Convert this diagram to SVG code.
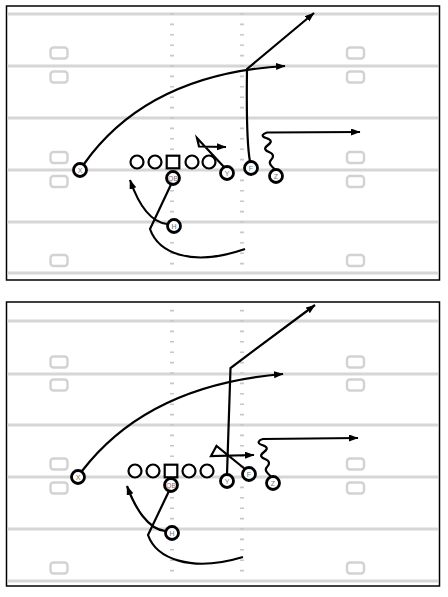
<svg xmlns="http://www.w3.org/2000/svg" width="448" height="597" viewBox="0 0 448 597">
<defs>
<style>
.frame{fill:#fff;stroke:#000;stroke-width:1.5}
.yard{stroke:#d6d6d6;stroke-width:3}
.hash{stroke:#c8c8c8;stroke-width:4;stroke-dasharray:1.6 8.8}
.num{fill:#fff;stroke:#d2d2d2;stroke-width:2.4}
.pl{fill:#fff;stroke:#000;stroke-width:2.8}
.ol{fill:#fff;stroke:#000;stroke-width:2.2}
.lbl{font-family:"Liberation Sans",Arial,sans-serif;font-size:7px;fill:#777;text-anchor:middle}
.rt{fill:none;stroke:#000;stroke-width:2.2;stroke-linejoin:miter}
.ar{marker-end:url(#arrow)}
</style>
<marker id="arrow" markerUnits="userSpaceOnUse" markerWidth="10" markerHeight="8" refX="9" refY="3.5" orient="auto">
<path d="M0,0 L9.5,3.5 L0,7 z" fill="#000"/>
</marker>
</defs>
<rect width="448" height="597" fill="#fff"/>

<!-- Panel 1 field -->
<g id="field1">
<rect class="frame" x="6.5" y="6" width="433" height="274"/>
<g class="yard">
<line x1="7.5" y1="14" x2="438" y2="14"/>
<line x1="7.5" y1="66" x2="438" y2="66"/>
<line x1="7.5" y1="118" x2="438" y2="118"/>
<line x1="7.5" y1="170" x2="438" y2="170"/>
<line x1="7.5" y1="222" x2="438" y2="222"/>
<line x1="7.5" y1="273" x2="438" y2="273"/>
</g>
<line class="hash" x1="172" y1="13.2" x2="172" y2="272"/>
<line class="hash" x1="242" y1="13.2" x2="242" y2="272"/>
<g class="num">
<rect x="50.5" y="47.5" width="17" height="11" rx="3"/>
<rect x="347" y="47.5" width="17" height="11" rx="3"/>
<rect x="50.5" y="71.5" width="17" height="11" rx="3"/>
<rect x="347" y="71.5" width="17" height="11" rx="3"/>
<rect x="50.5" y="152" width="17" height="11" rx="3"/>
<rect x="347" y="152" width="17" height="11" rx="3"/>
<rect x="50.5" y="176" width="17" height="11" rx="3"/>
<rect x="347" y="176" width="17" height="11" rx="3"/>
<rect x="50.5" y="255" width="17" height="11" rx="3"/>
<rect x="347" y="255" width="17" height="11" rx="3"/>
</g>
</g>

<!-- Panel 2 field -->
<g id="field2">
<rect class="frame" x="6.5" y="302" width="433" height="284"/>
<g class="yard">
<line x1="7.5" y1="321" x2="438" y2="321"/>
<line x1="7.5" y1="374" x2="438" y2="374"/>
<line x1="7.5" y1="425" x2="438" y2="425"/>
<line x1="7.5" y1="477" x2="438" y2="477"/>
<line x1="7.5" y1="529" x2="438" y2="529"/>
<line x1="7.5" y1="581" x2="438" y2="581"/>
</g>
<line class="hash" x1="172" y1="309.8" x2="172" y2="580"/>
<line class="hash" x1="242" y1="309.8" x2="242" y2="580"/>
<g class="num">
<rect x="50.5" y="356.5" width="17" height="11" rx="3"/>
<rect x="347" y="356.5" width="17" height="11" rx="3"/>
<rect x="50.5" y="379.5" width="17" height="11" rx="3"/>
<rect x="347" y="379.5" width="17" height="11" rx="3"/>
<rect x="50.5" y="458.5" width="17" height="11" rx="3"/>
<rect x="347" y="458.5" width="17" height="11" rx="3"/>
<rect x="50.5" y="482.5" width="17" height="11" rx="3"/>
<rect x="347" y="482.5" width="17" height="11" rx="3"/>
<rect x="50.5" y="562.5" width="17" height="11" rx="3"/>
<rect x="347" y="562.5" width="17" height="11" rx="3"/>
</g>
</g>

<!-- Connectors -->
<g id="routes">
<!-- panel 1 -->
<path class="rt ar" d="M84,164 Q148,74 285,66"/>
<path class="rt ar" d="M250,161.5 Q246,140 247,69 L314,13"/>
<path class="rt ar" d="M275,169.5 C271,166 268,163 271,160 S274,154 269,152 S264,148 268,145 S272,140 266,138 S263,134 267,132.5 L360,132"/>
<path class="rt ar" d="M224,167 L197,138 L199,146.5 L226,147"/>
<path class="rt" d="M171,184.5 L150,229 C158,252 190,268 245,249"/>
<path class="rt ar" d="M167,224 C150,222 138,203 130,180"/>
<!-- panel 2 -->
<path class="rt ar" d="M82,471 Q148,385 283,374"/>
<path class="rt ar" d="M227,474.5 L230.5,368 L315,305"/>
<path class="rt ar" d="M245,469 L216.5,446 L211,456 L254,455"/>
<path class="rt ar" d="M271,476.5 C267,473 264,470 267,467 S270,461 265,459 S260,455 264,452 S268,447 262,445 S259,440 263,439 L358,438"/>
<path class="rt" d="M169,491 L148,535 C156,558 190,573 243,557"/>
<path class="rt ar" d="M165,531 C148,529 135,508 127,486"/>
</g>

<!-- Panel 1 players -->
<g id="p1-line">
<circle class="ol" cx="137" cy="162" r="6.5"/>
<circle class="ol" cx="155" cy="162" r="6.5"/>
<rect class="ol" x="166.7" y="155.7" width="12.6" height="12.6"/>
<circle class="ol" cx="192" cy="162" r="6.5"/>
<circle class="ol" cx="209" cy="162" r="6.5"/>
</g>
<g id="p1-X"><circle class="pl" cx="80" cy="170" r="6.5"/><text class="lbl" x="80" y="172.5">X</text></g>
<g id="p1-QB"><circle class="pl" cx="173" cy="178" r="6.5"/><text class="lbl" x="173" y="180.5">QB</text></g>
<g id="p1-Y"><circle class="pl" cx="227" cy="173" r="6.5"/><text class="lbl" x="227" y="175.5">Y</text></g>
<g id="p1-F"><circle class="pl" cx="251" cy="168" r="6.5"/><text class="lbl" x="251" y="170.5">F</text></g>
<g id="p1-Z"><circle class="pl" cx="276" cy="176" r="6.5"/><text class="lbl" x="276" y="178.5">Z</text></g>
<g id="p1-H"><circle class="pl" cx="174" cy="226" r="6.5"/><text class="lbl" x="174" y="228.5">H</text></g>

<!-- Panel 2 players -->
<g id="p2-line">
<circle class="ol" cx="135" cy="471" r="6.5"/>
<circle class="ol" cx="153" cy="471" r="6.5"/>
<rect class="ol" x="164.7" y="464.7" width="12.6" height="12.6"/>
<circle class="ol" cx="189" cy="471" r="6.5"/>
<circle class="ol" cx="207" cy="471" r="6.5"/>
</g>
<g id="p2-X"><circle class="pl" cx="78" cy="477" r="6.5"/><text class="lbl" x="78" y="479.5">X</text></g>
<g id="p2-QB"><circle class="pl" cx="171" cy="485" r="6.5"/><text class="lbl" x="171" y="487.5">QB</text></g>
<g id="p2-Y"><circle class="pl" cx="227" cy="481" r="6.5"/><text class="lbl" x="227" y="483.5">Y</text></g>
<g id="p2-F"><circle class="pl" cx="249" cy="474" r="6.5"/><text class="lbl" x="249" y="476.5">F</text></g>
<g id="p2-Z"><circle class="pl" cx="273" cy="483" r="6.5"/><text class="lbl" x="273" y="485.5">Z</text></g>
<g id="p2-H"><circle class="pl" cx="172" cy="533" r="6.5"/><text class="lbl" x="172" y="535.5">H</text></g>
</svg>
